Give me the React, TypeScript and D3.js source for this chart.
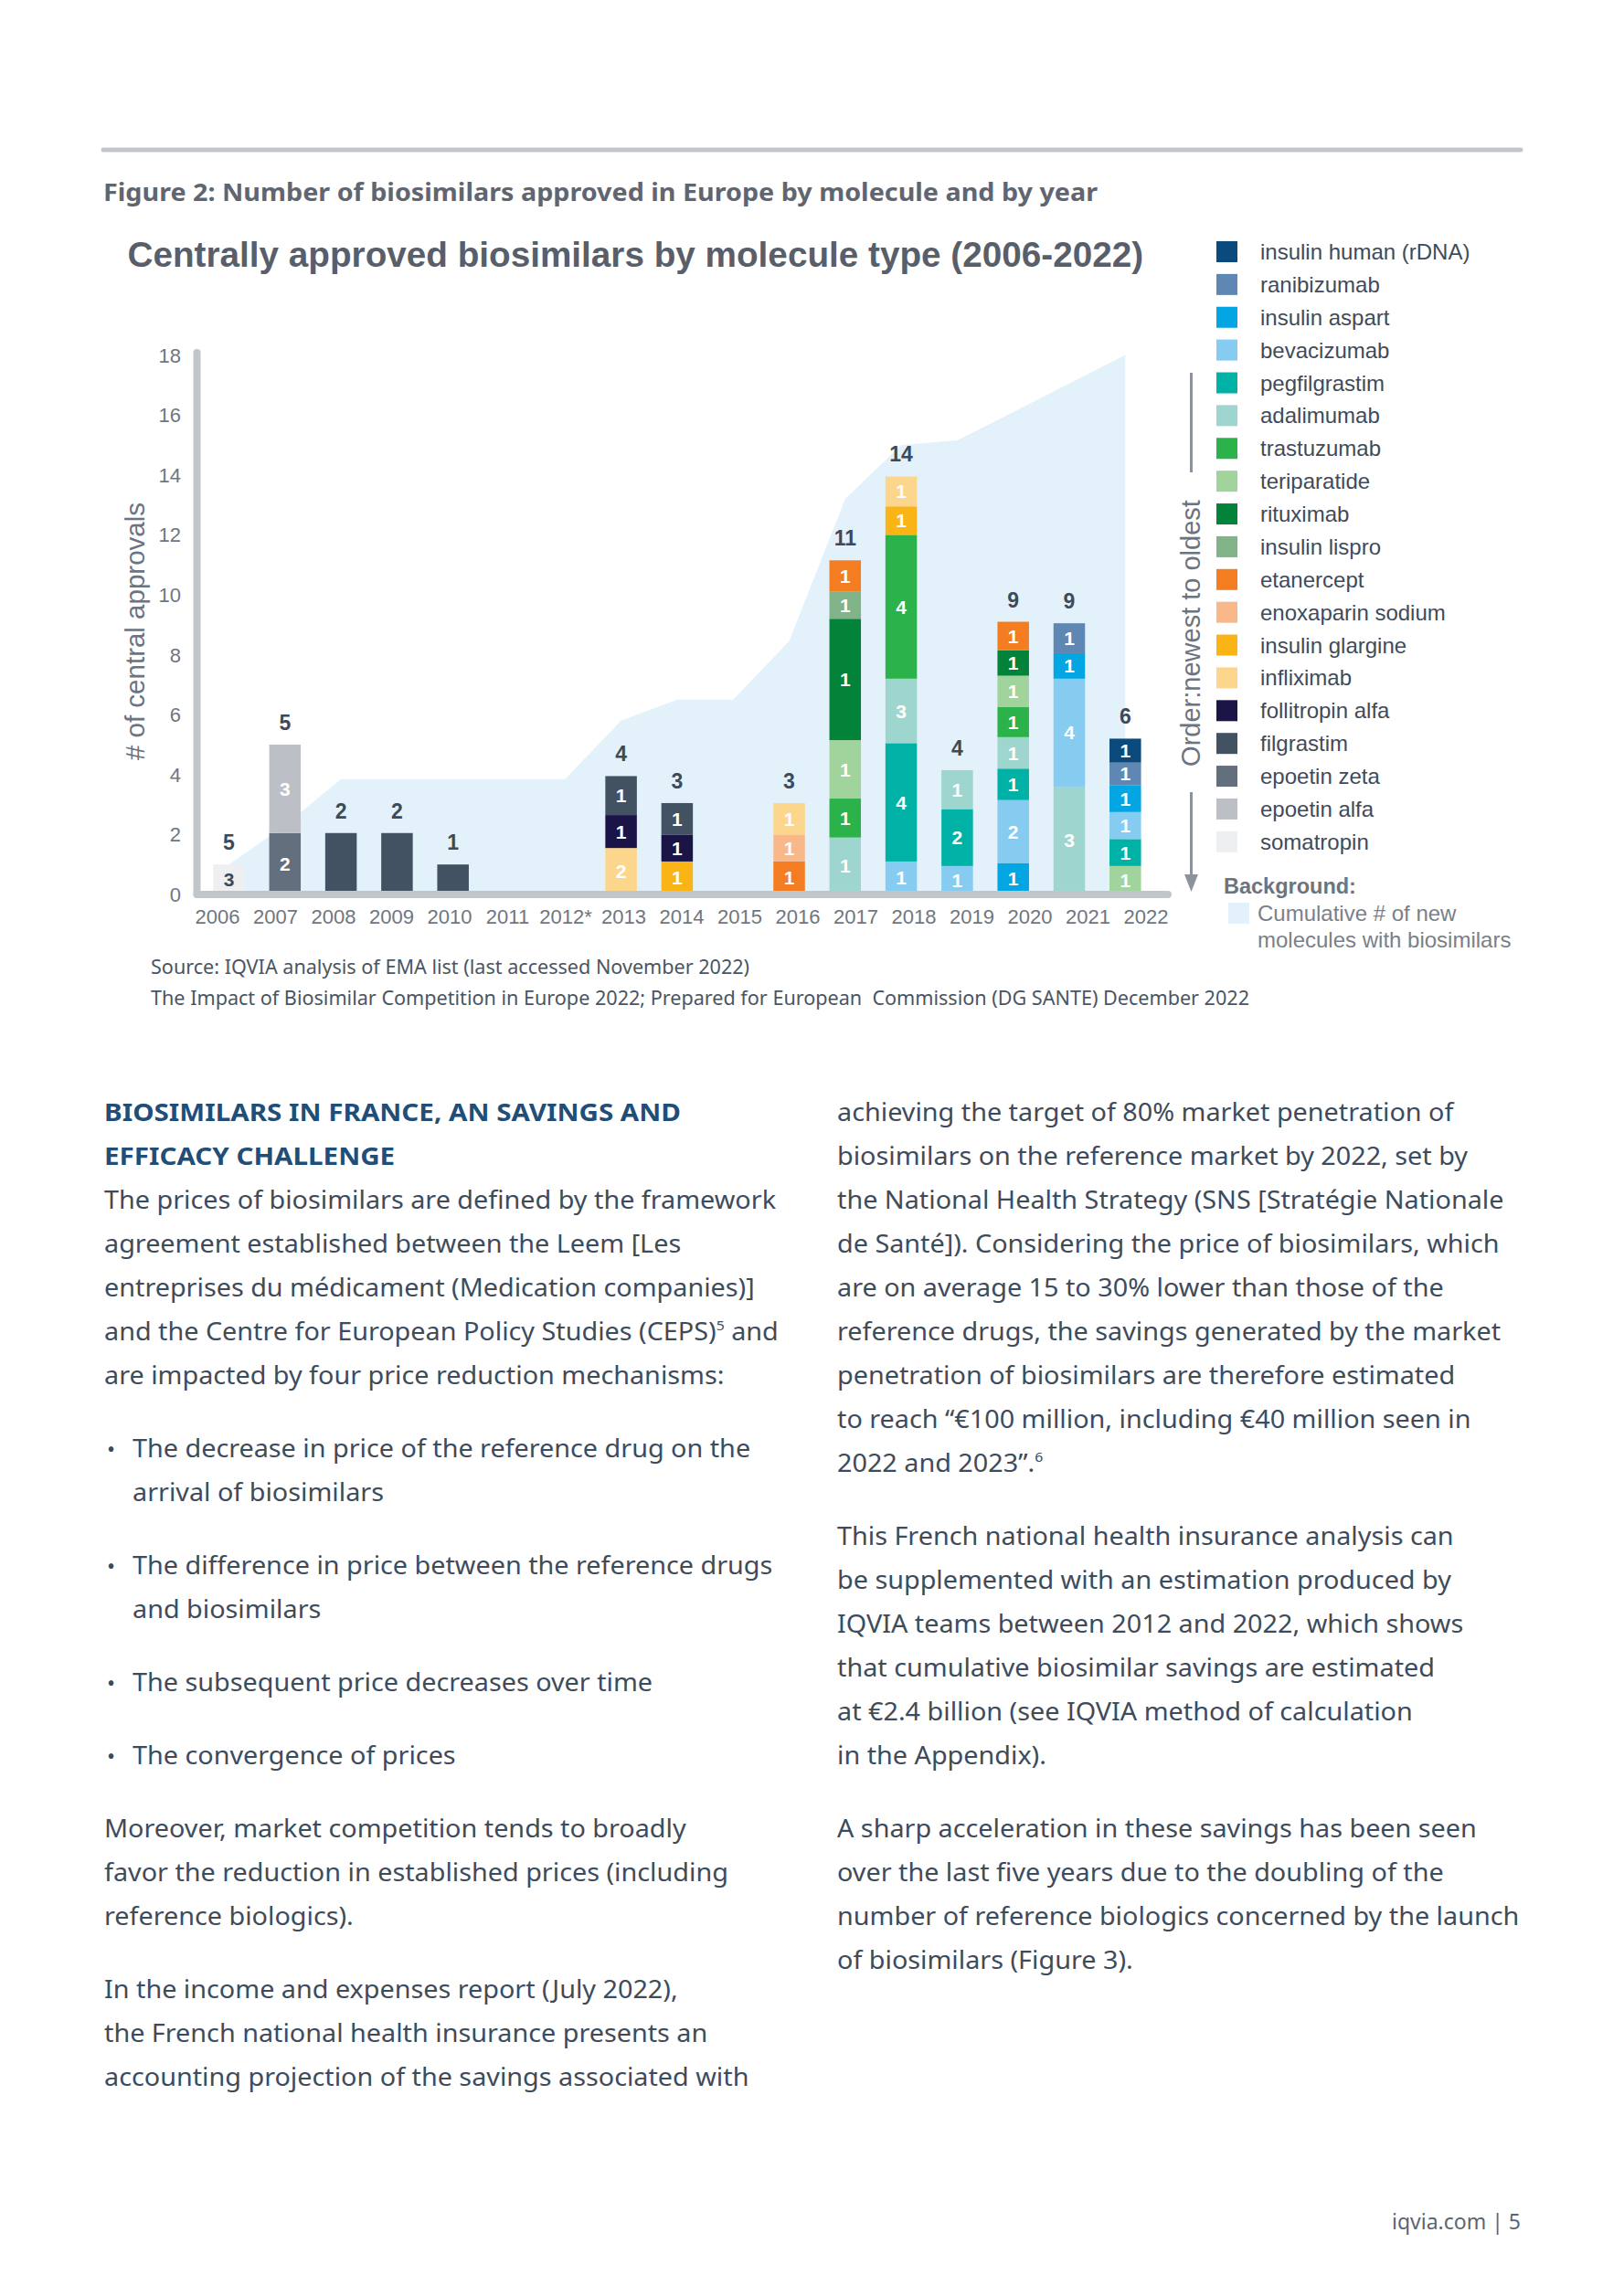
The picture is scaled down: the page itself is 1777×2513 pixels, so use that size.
import React, { useLayoutEffect, useRef } from 'react';
import * as d3 from 'd3';

// ---------- chart data ----------
const years = ['2006', '2007', '2008', '2009', '2010', '2011', '2012*', '2013', '2014', '2015', '2016', '2017', '2018', '2019', '2020', '2021', '2022'];

const molecules = [
  'insulin human (rDNA)', 'ranibizumab', 'insulin aspart', 'bevacizumab', 'pegfilgrastim',
  'adalimumab', 'trastuzumab', 'teriparatide', 'rituximab', 'insulin lispro', 'etanercept',
  'enoxaparin sodium', 'insulin glargine', 'infliximab', 'follitropin alfa', 'filgrastim',
  'epoetin zeta', 'epoetin alfa', 'somatropin',
];
const moleculeColors = [
  '#0b4a7d', '#5f87b3', '#04a5e3', '#86cbf0', '#00b2a5',
  '#9ed6cf', '#2cb24a', '#a0d49c', '#038339', '#80b488', '#f47d21',
  '#f9b88a', '#fbb416', '#fdd68e', '#1b1446', '#435263',
  '#646f7e', '#bcc0c6', '#eeeff1',
];

// stacked segments, bottom to top: [year, molecule, bar height, printed label]
const segments: [string, string, number, string][] = [
  ['2006', 'somatropin', 1.0, '3'],
  ['2007', 'epoetin zeta', 2.05, '2'],
  ['2007', 'epoetin alfa', 2.95, '3'],
  ['2008', 'filgrastim', 2.05, ''],
  ['2009', 'filgrastim', 2.05, ''],
  ['2010', 'filgrastim', 1.0, ''],
  ['2013', 'infliximab', 1.55, '2'],
  ['2013', 'follitropin alfa', 1.1, '1'],
  ['2013', 'filgrastim', 1.3, '1'],
  ['2014', 'insulin glargine', 1.1, '1'],
  ['2014', 'follitropin alfa', 0.9, '1'],
  ['2014', 'filgrastim', 1.05, '1'],
  ['2016', 'etanercept', 1.1, '1'],
  ['2016', 'enoxaparin sodium', 0.9, '1'],
  ['2016', 'infliximab', 1.05, '1'],
  ['2017', 'adalimumab', 1.9, '1'],
  ['2017', 'trastuzumab', 1.3, '1'],
  ['2017', 'teriparatide', 1.95, '1'],
  ['2017', 'rituximab', 4.05, '1'],
  ['2017', 'insulin lispro', 0.9, '1'],
  ['2017', 'etanercept', 1.05, '1'],
  ['2018', 'bevacizumab', 1.1, '1'],
  ['2018', 'pegfilgrastim', 3.95, '4'],
  ['2018', 'adalimumab', 2.15, '3'],
  ['2018', 'trastuzumab', 4.8, '4'],
  ['2018', 'insulin glargine', 0.95, '1'],
  ['2018', 'infliximab', 1.0, '1'],
  ['2019', 'bevacizumab', 0.95, '1'],
  ['2019', 'pegfilgrastim', 1.9, '2'],
  ['2019', 'adalimumab', 1.3, '1'],
  ['2020', 'insulin aspart', 1.05, '1'],
  ['2020', 'bevacizumab', 2.1, '2'],
  ['2020', 'pegfilgrastim', 1.05, '1'],
  ['2020', 'adalimumab', 1.05, '1'],
  ['2020', 'trastuzumab', 1.0, '1'],
  ['2020', 'teriparatide', 1.05, '1'],
  ['2020', 'rituximab', 0.85, '1'],
  ['2020', 'etanercept', 0.95, '1'],
  ['2021', 'adalimumab', 3.6, '3'],
  ['2021', 'bevacizumab', 3.6, '4'],
  ['2021', 'insulin aspart', 0.85, '1'],
  ['2021', 'ranibizumab', 1.0, '1'],
  ['2022', 'teriparatide', 0.95, '1'],
  ['2022', 'pegfilgrastim', 0.9, '1'],
  ['2022', 'bevacizumab', 0.9, '1'],
  ['2022', 'insulin aspart', 0.9, '1'],
  ['2022', 'ranibizumab', 0.75, '1'],
  ['2022', 'insulin human (rDNA)', 0.8, '1'],
];

const totalLabels: [string, string][] = [
  ['2006', '5'], ['2007', '5'], ['2008', '2'], ['2009', '2'], ['2010', '1'],
  ['2013', '4'], ['2014', '3'], ['2016', '3'], ['2017', '11'], ['2018', '14'],
  ['2019', '4'], ['2020', '9'], ['2021', '9'], ['2022', '6'],
];

// background: cumulative # of new molecules with biosimilars (one value per year)
const cumulativeNewMolecules = [1.0, 2.3, 3.85, 3.85, 3.85, 3.85, 3.85, 5.8, 6.5, 6.5, 8.45, 13.2, 15.0, 15.15, 16.1, 17.05, 18.0];

const yTicks = [0, 2, 4, 6, 8, 10, 12, 14, 16, 18];

// ---------- page text ----------
const captionText = 'Figure 2: Number of biosimilars approved in Europe by molecule and by year';
const chartTitle = 'Centrally approved biosimilars by molecule type (2006-2022)';
const sourceLines = [
  'Source: IQVIA analysis of EMA list (last accessed November 2022)',
  'The Impact of Biosimilar Competition in Europe 2022; Prepared for European  Commission (DG SANTE) December 2022',
];
const headingLines = ['BIOSIMILARS IN FRANCE, AN SAVINGS AND', 'EFFICACY CHALLENGE'];

type Block = { kind: 'p' | 'b'; lines: string[]; join?: boolean };
const leftBlocks: Block[] = [
  { kind: 'p', join: true, lines: [
    'The prices of biosimilars are defined by the framework',
    'agreement established between the Leem [Les',
    'entreprises du médicament (Medication companies)]',
    'and the Centre for European Policy Studies (CEPS)^5^ and',
    'are impacted by four price reduction mechanisms:',
  ] },
  { kind: 'b', lines: ['The decrease in price of the reference drug on the', 'arrival of biosimilars'] },
  { kind: 'b', lines: ['The difference in price between the reference drugs', 'and biosimilars'] },
  { kind: 'b', lines: ['The subsequent price decreases over time'] },
  { kind: 'b', lines: ['The convergence of prices'] },
  { kind: 'p', lines: [
    'Moreover, market competition tends to broadly',
    'favor the reduction in established prices (including',
    'reference biologics).',
  ] },
  { kind: 'p', lines: [
    'In the income and expenses report (July 2022),',
    'the French national health insurance presents an',
    'accounting projection of the savings associated with',
  ] },
];
const rightBlocks: Block[] = [
  { kind: 'p', lines: [
    'achieving the target of 80% market penetration of',
    'biosimilars on the reference market by 2022, set by',
    'the National Health Strategy (SNS [Stratégie Nationale',
    'de Santé]). Considering the price of biosimilars, which',
    'are on average 15 to 30% lower than those of the',
    'reference drugs, the savings generated by the market',
    'penetration of biosimilars are therefore estimated',
    'to reach “€100 million, including €40 million seen in',
    '2022 and 2023”.^6^',
  ] },
  { kind: 'p', lines: [
    'This French national health insurance analysis can',
    'be supplemented with an estimation produced by',
    'IQVIA teams between 2012 and 2022, which shows',
    'that cumulative biosimilar savings are estimated',
    'at €2.4 billion (see IQVIA method of calculation',
    'in the Appendix).',
  ] },
  { kind: 'p', lines: [
    'A sharp acceleration in these savings has been seen',
    'over the last five years due to the doubling of the',
    'number of reference biologics concerned by the launch',
    'of biosimilars (Figure 3).',
  ] },
];

const chartFont = "'Liberation Sans', Arial, Helvetica, sans-serif";
const bodyFont = "'Noto Sans', 'Open Sans', sans-serif";
const bodyColor = '#3e4b5b';

function renderParts(line: string) {
  const parts = line.split('^');
  return parts.map((p, i) =>
    i % 2 === 1 ? (
      <tspan key={i} fontSize="0.55em" dy="-0.75em">{p}</tspan>
    ) : (
      <tspan key={i} dy={i > 0 ? '0.41em' : undefined}>{p}</tspan>
    ),
  );
}

export default function App() {
  const svgRef = useRef<SVGSVGElement>(null);

  const W = 1777;
  const H = 2513;

  const x = d3.scaleBand<string>().domain(years).range([215.5, 1266.3]).paddingInner(0.437).paddingOuter(0.2896);
  const bw = x.bandwidth();
  const xLabel = d3.scalePoint<string>().domain(years).range([238, 1254]);
  const y = d3.scaleLinear().domain([0, 18]).range([979, 388.6]);
  const color = d3.scaleOrdinal<string, string>().domain(molecules).range(moleculeColors);

  // build stacks
  const tops = new Map<string, number>();
  const rects = segments.map(([yr, mol, h, label]) => {
    const base = tops.get(yr) ?? 0;
    tops.set(yr, base + h);
    return { yr, mol, y0: base, y1: base + h, label };
  });

  const area = d3
    .area<number>()
    .x((_, i) => (x(years[i]) as number) + bw / 2)
    .y0(y(0))
    .y1((d) => y(d))
    .curve(d3.curveLinear);

  // text layout
  const lineH = 48;
  const paraGap = 32;
  const layoutBlocks = (blocks: Block[], startY: number) => {
    const out: { text: string; y: number; bullet: boolean; first: boolean }[] = [];
    let yy = startY;
    blocks.forEach((b, bi) => {
      if (bi > 0 && !b.join) yy += paraGap;
      b.lines.forEach((l, li) => {
        out.push({ text: l, y: yy, bullet: b.kind === 'b', first: li === 0 });
        yy += lineH;
      });
    });
    return out;
  };
  const leftLines = layoutBlocks(leftBlocks, 1227 + 2 * lineH);
  const rightLines = layoutBlocks(rightBlocks, 1227);

  useLayoutEffect(() => {
    const root = d3.select(svgRef.current);
    const groups: [string, number][] = [
      ['caption', 1088],
      ['heading', 631],
      ['body', 735],
      ['source', 1202],
    ];
    groups.forEach(([g, target]) => {
      const nodes = root.selectAll<SVGTextElement, unknown>(`text[data-g="${g}"]`).nodes();
      const refNode = nodes.find((n) => n.getAttribute('data-ref') === '1');
      if (!refNode) return;
      const k = target / refNode.getComputedTextLength();
      nodes.forEach((n) => {
        const len = n.getComputedTextLength();
        n.setAttribute('textLength', String(len * k));
        n.setAttribute('lengthAdjust', 'spacingAndGlyphs');
      });
    });
  }, []);

  const legendY0 = 275.5;
  const legendStep = 35.88;

  return (
    <svg
      ref={svgRef}
      width={W}
      height={H}
      viewBox={`0 0 ${W} ${H}`}
      style={{ position: 'absolute', left: 0, top: 0, background: '#ffffff' }}
    >
      <rect x={0} y={0} width={W} height={H} fill="#ffffff" />
      {/* top rule */}
      <line x1={113} x2={1664} y1={164} y2={164} stroke="#c3c7cb" strokeWidth={5} strokeLinecap="round" />

      {/* caption */}
      <text data-g="caption" data-ref="1" x={113} y={220} fontFamily={bodyFont} fontWeight={700} fontSize={27} fill="#5f6672">
        {captionText}
      </text>

      {/* chart title */}
      <text x={139.5} y={292} fontFamily={chartFont} fontWeight={700} fontSize={38.7} fill="#595f6a">
        {chartTitle}
      </text>

      {/* background cumulative area */}
      <path d={area(cumulativeNewMolecules) as string} fill="#e3f2fa" />

      {/* bars */}
      <g>
        {rects.map((r, i) => (
          <rect
            key={i}
            x={x(r.yr) as number}
            width={bw}
            y={y(r.y1)}
            height={y(r.y0) - y(r.y1)}
            fill={color(r.mol)}
          />
        ))}
      </g>
      {/* segment labels */}
      <g fontFamily={chartFont} fontWeight={700} fontSize={21} textAnchor="middle">
        {rects
          .filter((r) => r.label !== '')
          .map((r, i) => (
            <text
              key={i}
              x={(x(r.yr) as number) + bw / 2}
              y={(y(r.y0) + y(r.y1)) / 2 + 7.5}
              fill={r.mol === 'somatropin' ? '#3d4a5a' : '#ffffff'}
            >
              {r.label}
            </text>
          ))}
      </g>
      {/* totals */}
      <g fontFamily={chartFont} fontWeight={700} fontSize={23} textAnchor="middle" fill="#3d4a5a">
        {totalLabels.map(([yr, t]) => (
          <text key={yr} x={(x(yr) as number) + bw / 2} y={y(tops.get(yr) ?? 0) - 16}>
            {t}
          </text>
        ))}
      </g>

      {/* axes */}
      <line x1={215.5} x2={215.5} y1={386} y2={979} stroke="#c2c5ca" strokeWidth={8} strokeLinecap="round" />
      <line x1={215.5} x2={1278} y1={979} y2={979} stroke="#c2c5ca" strokeWidth={8} strokeLinecap="round" />

      <g fontFamily={chartFont} fontSize={22} fill="#6f7680">
        {yTicks.map((t) => (
          <text key={t} x={198} y={y(t) + 8} textAnchor="end">
            {t}
          </text>
        ))}
        {years.map((yr) => (
          <text key={yr} x={xLabel(yr) as number} y={1011} textAnchor="middle">
            {yr}
          </text>
        ))}
      </g>
      <text
        transform="translate(158,691) rotate(-90)"
        textAnchor="middle"
        fontFamily={chartFont}
        fontSize={29.5}
        fill="#6b7480"
      >
        # of central approvals
      </text>

      {/* order indicator */}
      <line x1={1303.5} x2={1303.5} y1={408} y2={517} stroke="#8d939c" strokeWidth={3} />
      <line x1={1303.5} x2={1303.5} y1={867} y2={960} stroke="#8d939c" strokeWidth={3} />
      <path d="M1296,957 L1311,957 L1303.5,976 Z" fill="#8d939c" />
      <text
        transform="translate(1313,693) rotate(-90)"
        textAnchor="middle"
        fontFamily={chartFont}
        fontSize={29}
        fill="#6b7480"
      >
        Order:newest to oldest
      </text>

      {/* legend */}
      <g fontFamily={chartFont} fontSize={24} fill="#3f4b5a">
        {molecules.map((m, i) => (
          <g key={m}>
            <rect x={1331} y={legendY0 + i * legendStep - 11.5} width={23} height={23} fill={color(m)} />
            <text x={1379} y={legendY0 + i * legendStep + 8.5}>
              {m}
            </text>
          </g>
        ))}
      </g>
      <text x={1339} y={978} fontFamily={chartFont} fontWeight={700} fontSize={23.5} fill="#6b7480">
        Background:
      </text>
      <rect x={1344} y={988} width={23} height={23} fill="#e3f2fa" />
      <g fontFamily={chartFont} fontSize={24} fill="#7a8088">
        <text x={1376} y={1008}>Cumulative # of new</text>
        <text x={1376} y={1037}>molecules with biosimilars</text>
      </g>

      {/* source */}
      <g fontFamily={bodyFont} fontSize={21} fill="#4a5563" style={{ whiteSpace: 'pre' }}>
        {sourceLines.map((s, i) => (
          <text key={i} data-g="source" data-ref={i === 1 ? '1' : undefined} x={165} y={1066 + i * 34} xmlSpace="preserve">
            {s}
          </text>
        ))}
      </g>

      {/* body: heading */}
      <g fontFamily={bodyFont} fontWeight={700} fontSize={26} fill="#1f4e79">
        {headingLines.map((h, i) => (
          <text key={i} data-g="heading" data-ref={i === 0 ? '1' : undefined} x={114} y={1227 + i * lineH}>
            {h}
          </text>
        ))}
      </g>

      <g fontFamily={bodyFont} fontSize={27} fill={bodyColor}>
        {leftLines.map((l, i) => (
          <g key={'l' + i}>
            {l.bullet && l.first && (
              <text x={117} y={l.y} fontSize={24}>
                •
              </text>
            )}
            <text
              data-g="body"
              data-ref={l.text.startsWith('The prices') ? '1' : undefined}
              x={l.bullet ? 145 : 114}
              y={l.y}
            >
              {renderParts(l.text)}
            </text>
          </g>
        ))}
        {rightLines.map((l, i) => (
          <text key={'r' + i} data-g="body" x={916} y={l.y}>
            {renderParts(l.text)}
          </text>
        ))}
      </g>

      {/* footer */}
      <text x={1664} y={2440} textAnchor="end" fontFamily={bodyFont} fontSize={23} fill="#5b6573">
        iqvia.com | 5
      </text>
    </svg>
  );
}
